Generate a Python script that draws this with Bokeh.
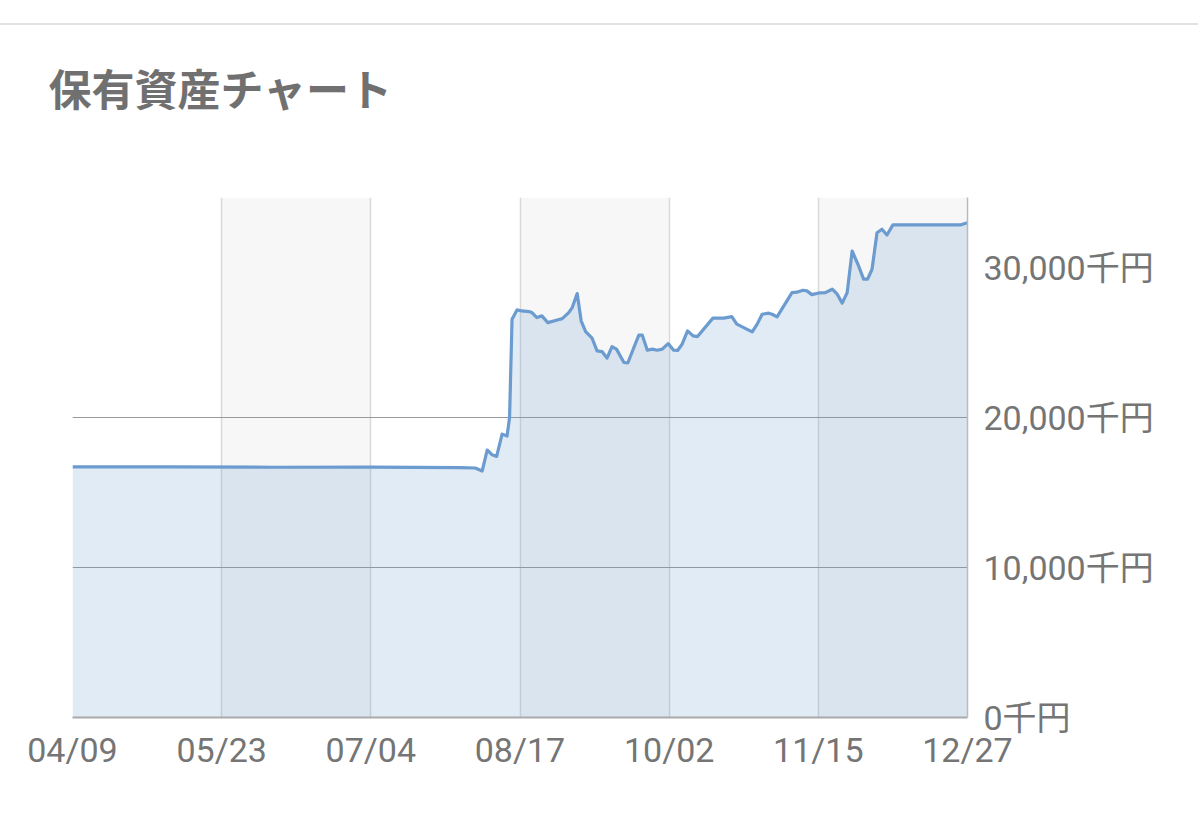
from bokeh.plotting import figure
from bokeh.models import (Range1d, FixedTicker, LinearAxis, BoxAnnotation, Title, Div,
                          ColumnDataSource)
from bokeh.layouts import column
from bokeh.embed import file_html
from bokeh.resources import INLINE

# ---- data (index of trading day, total assets in 千円) ----
day_index = [0, 20, 40, 60, 78, 81, 82.4, 83.4, 84.4, 85.3, 86.4, 87.4, 87.9, 88.4, 89.4,
             90.4, 91.8, 92.4, 93.4, 94.4, 95.6, 97.5, 98.5, 99.8, 100.5, 101.5, 102.3,
             103.2, 104.5, 105.5, 106.5, 107.5, 108.5, 109.4, 110.9, 111.7, 112.9, 113.9,
             114.6, 115.6, 116.6, 117.6, 118.6, 119.8, 120.9, 121.7, 122.6, 123.7, 124.8,
             125.7, 128.8, 131.0, 132.6, 133.6, 136.7, 137.7, 138.7, 140.0, 140.7, 141.7,
             144.7, 145.7, 146.9, 147.7, 148.7, 150.1, 151.4, 152.8, 153.8, 154.8, 155.8,
             156.8, 158.1, 159.1, 159.9, 160.8, 161.8, 162.8, 163.8, 165.0, 172.0, 178.5,
             180.0]
assets = [16730, 16720, 16700, 16710, 16680, 16650, 16450, 17850, 17530, 17420, 18910,
          18780, 20020, 26580, 27200, 27130, 27090, 27020, 26690, 26800, 26350, 26530,
          26620, 27020, 27350, 28290, 26470, 25750, 25310, 24470, 24420, 23980, 24750,
          24580, 23690, 23670, 24690, 25510, 25510, 24510, 24580, 24510, 24580, 24950,
          24510, 24490, 24910, 25800, 25470, 25420, 26650, 26650, 26750, 26250, 25730,
          26250, 26910, 26980, 26910, 26730, 28350, 28380, 28510, 28470, 28220, 28330,
          28350, 28580, 28250, 27650, 28350, 31130, 30130, 29250, 29250, 29910, 32350,
          32580, 32200, 32870, 32870, 32870, 33020]

x_ticks = [0, 30, 60, 90, 120, 150, 180]
x_tick_labels = ["04/09", "05/23", "07/04", "08/17", "10/02", "11/15", "12/27"]
y_ticks = [0, 10000, 20000, 30000]
y_tick_labels = ["0千円", "10,000千円", "20,000千円", "30,000千円"]
y_grid_values = [10000, 20000]
title_text = "保有資産チャート"

LABEL_FONT = "Roboto, 'Noto Sans CJK JP'"
TEXT_COLOR = "#757575"

p = figure(width=1198, height=786, output_backend="svg", toolbar_location=None,
           x_range=Range1d(0, 180), y_range=Range1d(0, 34700),
           min_border_left=72, min_border_right=231, min_border_top=172,
           min_border_bottom=94, outline_line_color=None, y_axis_location=None)

# spacer between title and plot frame (closest to the frame), then the title
p.add_layout(Title(text=" ", text_font_size="20px", standoff=51, text_color="#ffffff"),
             "above")
p.add_layout(Title(text=title_text, text_font="'Noto Sans CJK JP'",
                   text_font_size="43px", text_font_style="bold", text_color="#707070",
                   align="left", offset=-24, standoff=10), "above")

# alternating background bands between date ticks
for i in range(1, len(x_ticks) - 1, 2):
    p.add_layout(BoxAnnotation(left=x_ticks[i], right=x_ticks[i + 1], fill_color="#f7f7f7",
                               fill_alpha=1, line_color=None, level="image"))

src = ColumnDataSource(dict(x=day_index, y=assets, base=[0] * len(assets)))
p.varea(x="x", y1="base", y2="y", source=src, fill_color="#6699cc", fill_alpha=0.2)
p.line(x="x", y="y", source=src, line_color="#6b9bcf", line_width=3.2,
       line_join="round")

# x axis
xa = p.xaxis[0]
xa.ticker = FixedTicker(ticks=x_ticks)
xa.major_label_overrides = {t: l for t, l in zip(x_ticks, x_tick_labels)}
xa.axis_line_color = "#aaaaaa"
xa.axis_line_width = 2
xa.major_tick_line_color = None
xa.minor_tick_line_color = None
xa.major_tick_out = 0
xa.minor_tick_out = 0
xa.major_label_text_font = LABEL_FONT
xa.major_label_text_font_size = "34px"
xa.major_label_text_color = TEXT_COLOR
xa.major_label_standoff = 12

# y axis on the right
ya = LinearAxis(ticker=FixedTicker(ticks=y_ticks))
ya.major_label_overrides = {t: l for t, l in zip(y_ticks, y_tick_labels)}
ya.axis_line_color = "#bbbbbb"
ya.axis_line_width = 1.5
ya.major_tick_line_color = None
ya.minor_tick_line_color = None
ya.major_tick_out = 0
ya.minor_tick_out = 0
ya.major_label_text_font = LABEL_FONT
ya.major_label_text_font_size = "34px"
ya.major_label_text_color = TEXT_COLOR
ya.major_label_standoff = 16
p.add_layout(ya, "right")

# grids
p.xgrid.ticker = FixedTicker(ticks=x_ticks)
p.xgrid.grid_line_color = "#d9d9d9"
p.xgrid.grid_line_width = 1.5
p.ygrid.ticker = FixedTicker(ticks=y_grid_values)
p.ygrid.grid_line_color = "#999999"
p.ygrid.grid_line_width = 1

sep = Div(text="", width=1198, height=25, margin=0,
          styles={"border-bottom": "2px solid #e2e2e2"})

layout = column(sep, p, spacing=0)
open("out.html", "w").write(file_html(layout, INLINE))
